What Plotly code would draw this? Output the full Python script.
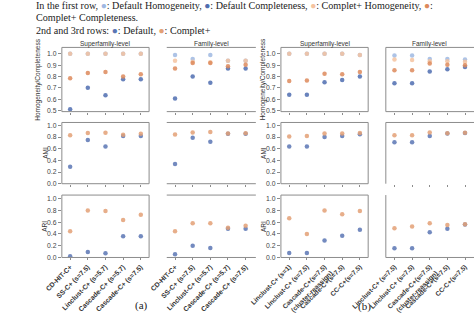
import plotly.graph_objects as go

# ---- tick labels ------------------------------------------------------
cats_a = ["CD-HIT-C+", "SS-C+ (s=7.5)", "Linclust-C+ (s=5.7)",
          "Cascade-C+ (s=5.7)", "Cascade-C+ (s=7.5)"]
cats_b_sf = ["Linclust-C+ (s=1)", "Linclust-C+ (s=7.5)",
             "Cascade-C+(s=7.5)<br>(cluster-reassign)", "Cascade-C+(s=7.5)",
             "CC-C+(s=7.5)"]
cats_b_f = ["Linclust-C+ (s=7.5)", "Linclust-C+ (s=7.5)",
            "Cascade-C+(s=7.5)<br>(cluster-reassign)", "Cascade-C+(s=7.5)",
            "CC-C+(s=7.5)"]

# ---- row 1: homogeneity / completeness -------------------------------
a_sf_def_hom = [1.0, 1.0, 1.0, 1.0, 1.0]
a_sf_def_com = [0.51, 0.70, 0.635, 0.775, 0.775]
a_sf_cp_hom = [1.0, 1.0, 1.0, 1.0, 1.0]
a_sf_cp_com = [0.785, 0.83, 0.84, 0.80, 0.82]

a_f_def_hom = [0.99, 0.955, 0.99, 0.94, 0.94]
a_f_def_com = [0.605, 0.80, 0.745, 0.87, 0.87]
a_f_cp_hom = [0.94, 0.93, 0.925, 0.94, 0.94]
a_f_cp_com = [0.87, 0.92, 0.92, 0.89, 0.905]

b_sf_def_hom = [1.0, 1.0, 1.0, 1.0, 0.99]
b_sf_def_com = [0.64, 0.64, 0.75, 0.77, 0.80]
b_sf_cp_hom = [1.0, 1.0, 1.0, 1.0, 0.99]
b_sf_cp_com = [0.76, 0.765, 0.825, 0.82, 0.84]

b_f_def_hom = [0.985, 0.985, 0.955, 0.955, 0.95]
b_f_def_com = [0.74, 0.74, 0.845, 0.865, 0.885]
b_f_cp_hom = [0.95, 0.945, 0.935, 0.935, 0.93]
b_f_cp_com = [0.855, 0.855, 0.915, 0.905, 0.90]

# ---- row 2: AMI -------------------------------------------------------
a_sf_def_ami = [0.29, 0.75, 0.64, 0.82, 0.82]
a_sf_cp_ami = [0.83, 0.87, 0.875, 0.84, 0.855]
a_f_def_ami = [0.34, 0.79, 0.72, 0.855, 0.855]
a_f_cp_ami = [0.845, 0.88, 0.885, 0.86, 0.865]
b_sf_def_ami = [0.64, 0.64, 0.80, 0.82, 0.85]
b_sf_cp_ami = [0.81, 0.82, 0.86, 0.86, 0.87]
b_f_def_ami = [0.71, 0.71, 0.82, 0.86, 0.87]
b_f_cp_ami = [0.83, 0.83, 0.88, 0.865, 0.875]

# ---- row 3: ARI -------------------------------------------------------
a_sf_def_ari = [0.02, 0.095, 0.07, 0.36, 0.36]
a_sf_cp_ari = [0.445, 0.80, 0.79, 0.635, 0.725]
a_f_def_ari = [0.055, 0.20, 0.16, 0.49, 0.49]
a_f_cp_ari = [0.445, 0.58, 0.58, 0.505, 0.54]
b_sf_def_ari = [0.075, 0.075, 0.29, 0.37, 0.47]
b_sf_cp_ari = [0.665, 0.40, 0.80, 0.735, 0.79]
b_f_def_ari = [0.155, 0.155, 0.43, 0.49, 0.56]
b_f_cp_ari = [0.495, 0.525, 0.58, 0.55, 0.565]

# ---- styling ----------------------------------------------------------
C_DEF_HOM = "#9fb8e2"
C_DEF_COM = "#4f6db0"
C_CP_HOM = "#f5c3a0"
C_CP_COM = "#dd8a5c"
C_DEF = "#5a76b4"
C_CP = "#e3a075"
FRAME = "#8c8c8c"
W, H = 474, 323


def px_x(p):
    return p / W


def px_y(p):
    return 1 - p / H


# column geometry in pixels: (x0, x1, x-range, tick labels)
cols = {
    ("a", "sf"): (30, 124, [-0.47, 4.47], cats_a),
    ("a", "f"): (143, 239, [-0.47, 4.58], cats_a),
    ("b", "sf"): (266, 360, [-0.47, 4.47], cats_b_sf),
    ("b", "f"): (379, 474, [-0.49, 4.51], cats_b_f),
}
# row geometry in pixels: (y0 top, y1 bottom, y-range, tick values)
rows = {
    1: (47, 112, [0.49, 1.057], [0.5, 0.6, 0.7, 0.8, 0.9, 1.0]),
    2: (123, 185, [0.0, 1.05], [0.0, 0.2, 0.4, 0.6, 0.8, 1.0]),
    3: (196.5, 259.7, [0.0, 1.06], [0.0, 0.2, 0.4, 0.6, 0.8, 1.0]),
}
# which frame sides are drawn for each panel
sides = {
    ("a", "sf"): {1: "ltrb", 2: "ltrb", 3: "ltrb"},
    ("a", "f"): {1: "tb", 2: "tb", 3: "tb"},
    ("b", "sf"): {1: "ltrb", 2: "ltrb", 3: "ltrb"},
    ("b", "f"): {1: "ltb", 2: "lt", 3: "lb"},
}
label_size = {"a": 6.8, "b": 6.6}

series = {
    ("a", "sf", 1): [(a_sf_def_hom, C_DEF_HOM), (a_sf_def_com, C_DEF_COM),
                     (a_sf_cp_hom, C_CP_HOM), (a_sf_cp_com, C_CP_COM)],
    ("a", "f", 1): [(a_f_def_hom, C_DEF_HOM), (a_f_def_com, C_DEF_COM),
                    (a_f_cp_hom, C_CP_HOM), (a_f_cp_com, C_CP_COM)],
    ("b", "sf", 1): [(b_sf_def_hom, C_DEF_HOM), (b_sf_def_com, C_DEF_COM),
                     (b_sf_cp_hom, C_CP_HOM), (b_sf_cp_com, C_CP_COM)],
    ("b", "f", 1): [(b_f_def_hom, C_DEF_HOM), (b_f_def_com, C_DEF_COM),
                    (b_f_cp_hom, C_CP_HOM), (b_f_cp_com, C_CP_COM)],
    ("a", "sf", 2): [(a_sf_def_ami, C_DEF), (a_sf_cp_ami, C_CP)],
    ("a", "f", 2): [(a_f_def_ami, C_DEF), (a_f_cp_ami, C_CP)],
    ("b", "sf", 2): [(b_sf_def_ami, C_DEF), (b_sf_cp_ami, C_CP)],
    ("b", "f", 2): [(b_f_def_ami, C_DEF), (b_f_cp_ami, C_CP)],
    ("a", "sf", 3): [(a_sf_def_ari, C_DEF), (a_sf_cp_ari, C_CP)],
    ("a", "f", 3): [(a_f_def_ari, C_DEF), (a_f_cp_ari, C_CP)],
    ("b", "sf", 3): [(b_sf_def_ari, C_DEF), (b_sf_cp_ari, C_CP)],
    ("b", "f", 3): [(b_f_def_ari, C_DEF), (b_f_cp_ari, C_CP)],
}

fig = go.Figure()
layout = {}
shapes = []
k = 0
for panel in ("a", "b"):
    for level in ("sf", "f"):
        x0, x1, xr, labels = cols[(panel, level)]
        pos = list(range(len(labels)))
        for r in (1, 2, 3):
            k += 1
            y0, y1, yr, yt = rows[r]
            xa = "xaxis" if k == 1 else f"xaxis{k}"
            ya = "yaxis" if k == 1 else f"yaxis{k}"
            xref = "x" if k == 1 else f"x{k}"
            yref = "y" if k == 1 else f"y{k}"
            layout[xa] = dict(
                domain=[px_x(x0), min(px_x(x1), 1.0)], anchor=yref,
                range=xr, tickvals=pos, ticktext=labels,
                showgrid=False, zeroline=False, showline=False,
                ticks="outside", ticklen=2, tickwidth=1, tickcolor=FRAME,
                showticklabels=(r == 3), tickangle=-45,
                tickfont=dict(family="Liberation Sans",
                              size=label_size[panel],
                              color="#333333", weight="bold"),
            )
            layout[ya] = dict(
                domain=[px_y(y1), px_y(y0)], anchor=xref, range=yr,
                showgrid=False, zeroline=False, showline=False,
                tickvals=yt, ticktext=[f"{v:.1f}" for v in yt],
                ticks="outside" if level == "sf" else "",
                ticklen=3, tickcolor=FRAME,
                showticklabels=(level == "sf"),
                tickfont=dict(family="Liberation Sans", size=6.8,
                              color="#444444"),
            )
            for vals, col in series[(panel, level, r)]:
                fig.add_trace(go.Scatter(
                    x=pos, y=vals, mode="markers",
                    marker=dict(size=4.5, color=col, opacity=0.85),
                    xaxis=xref, yaxis=yref, showlegend=False,
                    hoverinfo="skip"))
            s = sides[(panel, level)][r]
            fx0, fx1 = px_x(x0), min(px_x(x1), 1.0)
            fy0, fy1 = px_y(y1), px_y(y0)
            segs = {"l": (fx0, fy0, fx0, fy1), "r": (fx1, fy0, fx1, fy1),
                    "t": (fx0, fy1, fx1, fy1), "b": (fx0, fy0, fx1, fy0)}
            for side in s:
                a0, b0, a1, b1 = segs[side]
                shapes.append(dict(type="line", xref="paper", yref="paper",
                                   x0=a0, y0=b0, x1=a1, y1=b1,
                                   line=dict(color=FRAME, width=1)))

annotations = []
serif = dict(family="Liberation Serif", size=10.1, color="#222222")


def dot(c):
    return f"<span style='color:{c}'>●</span>"


caption = [
    (5, "In the first row, " + dot(C_DEF_HOM) + ": Default Homogeneity, "
     + dot(C_DEF_COM) + ": Default Completeness, " + dot(C_CP_HOM)
     + ": Complet+ Homogeneity, " + dot(C_CP_COM) + ":"),
    (17, "Complet+ Completeness."),
    (29.5, "2nd and 3rd rows: " + dot(C_DEF) + ": Default, " + dot(C_CP)
     + ": Complet+"),
]
for yy, txt in caption:
    annotations.append(dict(text=txt, x=0, y=px_y(yy), xref="paper",
                            yref="paper", xanchor="left", yanchor="middle",
                            showarrow=False, font=serif))

sans = dict(family="Liberation Sans", size=6.5, color="#333333")
for (panel, level), (x0, x1, _, _) in cols.items():
    title = "Superfamily-level" if level == "sf" else "Family-level"
    annotations.append(dict(text=title, x=px_x((x0 + x1) / 2), y=px_y(44),
                            xref="paper", yref="paper", xanchor="center",
                            yanchor="middle", showarrow=False, font=sans))

ytitles = [
    ("Homogeneity/Completeness", 3.5, 246.5, 79.5),
    ("AMI", 11.5, 246.5, 154),
    ("ARI", 11.5, 246.5, 228),
]
for txt, xa_px, xb_px, yc in ytitles:
    for xp in (xa_px, xb_px):
        annotations.append(dict(text=txt, x=px_x(xp), y=px_y(yc),
                                xref="paper", yref="paper", xanchor="center",
                                yanchor="middle", textangle=-90,
                                showarrow=False, font=sans))

for txt, xp, yp in (("(a)", 116, 308), ("(b)", 356, 309)):
    annotations.append(dict(text=txt, x=px_x(xp), y=px_y(yp), xref="paper",
                            yref="paper", xanchor="center", yanchor="middle",
                            showarrow=False,
                            font=dict(family="Liberation Serif", size=11,
                                      color="#222222")))

fig.update_layout(
    width=W, height=H, margin=dict(l=0, r=0, t=0, b=0),
    paper_bgcolor="white", plot_bgcolor="white",
    shapes=shapes, annotations=annotations, **layout)

fig.write_html("out.html")
